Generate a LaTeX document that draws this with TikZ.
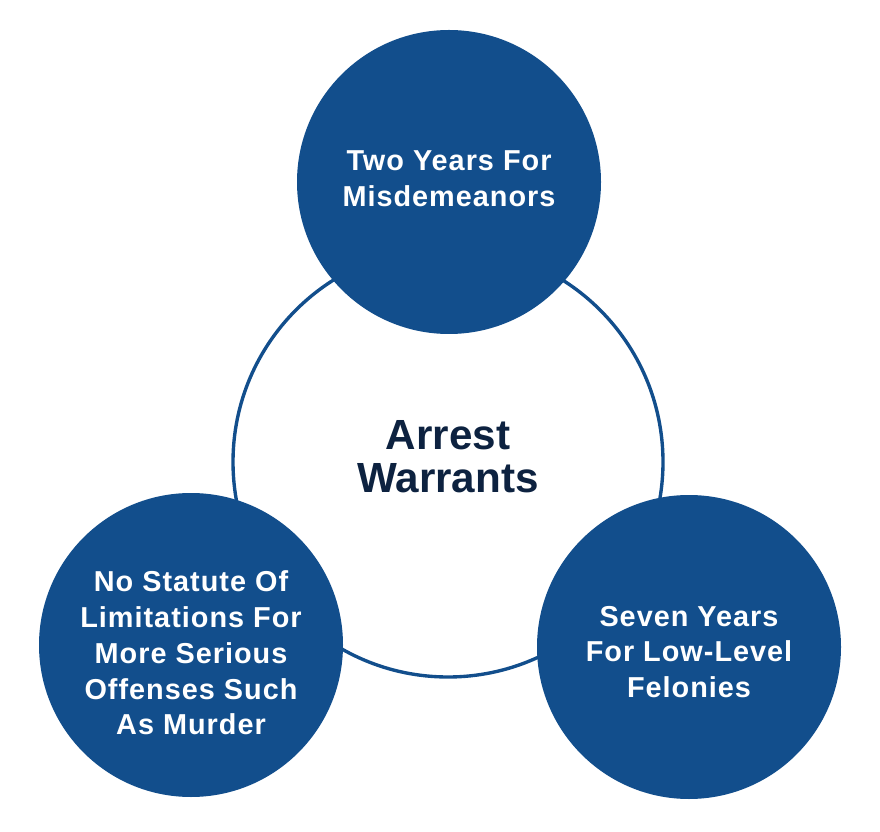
\documentclass[tikz,border=0pt]{standalone}
\usepackage{fontspec}
\setmainfont{Liberation Sans}
\newfontfamily\spacedfont[LetterSpace=3.5]{Liberation Sans}
\usepackage{xcolor}
\usetikzlibrary{positioning}

\definecolor{warrantblue}{HTML}{124E8C}
\definecolor{warrantnavy}{HTML}{0D2240}

\begin{document}
\begin{tikzpicture}[
    x=0.025cm, y=-0.025cm,
    hub/.style={circle, draw=warrantblue, line width=2.4pt, fill=white,
                minimum size=430*0.025cm, inner sep=0pt},
    hubtext/.style={align=center, text=warrantnavy, inner sep=0pt,
                    font=\fontsize{30}{30.5}\selectfont\bfseries},
    term/.style={circle, fill=warrantblue, minimum size=304*0.025cm,
                 inner sep=0pt},
    termtext/.style={align=center, text=white, inner sep=0pt,
                     font=\spacedfont\fontsize{20.5}{25.4}\selectfont\bfseries},
]
    \useasboundingbox (0,0) rectangle (880,832);

    \node[hub] (hub) at (448,462) {};
    \node[term] (top) at (449,182) {};
    \node[term] (left) at (191,645) {};
    \node[term] (right) at (689,647) {};

    \node[hubtext] (hublabel) at ([yshift=5*0.025cm]hub.center) {Arrest\\Warrants};
    \node[termtext] (toplabel) at ([yshift=3*0.025cm]top.center) {Two Years For\\Misdemeanors};
    \node[termtext] (leftlabel) at ([yshift=-8*0.025cm]left.center) {No Statute Of\\Limitations For\\More Serious\\Offenses Such\\As Murder};
    \node[termtext] (rightlabel) at ([yshift=-5*0.025cm]right.center) {Seven Years\\For Low-Level\\Felonies};
\end{tikzpicture}
\end{document}
